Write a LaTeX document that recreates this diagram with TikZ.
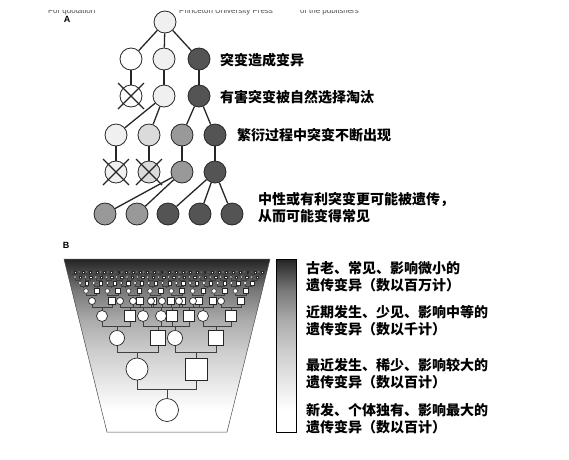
\documentclass[tikz,border=0pt]{standalone}
\usepackage{fontspec}
\newfontfamily\cjk{Noto Sans CJK SC}
\newfontfamily\latin{Liberation Sans}

\tikzset{
  ind/.style={circle, draw=black!85, line width=0.8pt, minimum size=22pt, inner sep=0pt},
  wht/.style={ind, fill=white},
  pale/.style={ind, fill=black!6},
  lgry/.style={ind, fill=black!14},
  mgry/.style={ind, fill=black!40},
  dgry/.style={ind, fill=black!67},
  link/.style={line width=1.3pt, black!85},
  xline/.style={line width=1.2pt, black!85},
  lbl/.style={anchor=west, inner sep=0pt, font=\cjk\bfseries\fontsize{14}{17}\selectfont},
  fem/.style={circle, draw=black!85, fill=white, line width=0.7pt, inner sep=0pt, minimum size=#1pt},
  mal/.style={rectangle, draw=black!85, fill=white, line width=0.7pt, inner sep=0pt, minimum size=#1pt},
  kin/.style={line width=0.6pt, black!75},
  wmk/.style={anchor=base west, inner sep=0pt, black!70, font=\latin\fontsize{8}{8}\selectfont},
}

% mother, father, child, height of the bar
\newcommand{\kinlink}[4]{%
  \draw[kin] (#1.south) -- (#1.south |- 0,#4) -- (#2.south |- 0,#4) -- (#2.south);
  \draw[kin] (#3.north |- 0,#4) -- (#3.north);}

% fading bands from dark (old) to white (new), x range #1 to #2
\newcommand{\agebands}[2]{%
  \foreach \ya/\yb/\ca/\cb in {258/290/87/53, 290/320/53/33, 320/350/33/20,
                               350/380/20/10, 380/410/10/0}
    \shade[top color=black!\ca, bottom color=black!\cb] (#1,\ya) rectangle (#2,\yb+0.3);}

\begin{document}
\begin{tikzpicture}[x=1pt,y=-1pt]
  \useasboundingbox (0,0) rectangle (569,459);

  \begin{scope}
    \clip (0,10.5) rectangle (569,20);
    \node[wmk] (w1) at (48,13.5) {For quotation};
    \node[wmk] (w2) at (179,13.5) {Princeton University Press};
    \node[wmk] (w3) at (300,13.5) {of the publishers};
  \end{scope}

  % A
  \node[font=\latin\bfseries\fontsize{9}{9}\selectfont] (labA) at (67,19) {A};

  \node[pale] (top) at (165,22) {};
  \node[wht]  (a1) at (131,59) {};
  \node[pale] (a2) at (164,59) {};
  \node[dgry] (a3) at (199,59) {};
  \node[wht]  (b1) at (131,96) {};
  \node[pale] (b2) at (164,96) {};
  \node[dgry] (b3) at (199,96) {};
  \node[pale] (c1) at (116,135) {};
  \node[lgry] (c2) at (149,135) {};
  \node[mgry] (c3) at (182,135) {};
  \node[dgry] (c4) at (215,135) {};
  \node[pale] (d1) at (116,172) {};
  \node[lgry] (d2) at (149,172) {};
  \node[mgry] (d3) at (182,172) {};
  \node[dgry] (d4) at (215,172) {};
  \node[mgry] (e1) at (105,214) {};
  \node[mgry] (e2) at (137,214) {};
  \node[dgry] (e3) at (168,214) {};
  \node[dgry] (e4) at (200,214) {};
  \node[dgry] (e5) at (232,214) {};

  \foreach \p/\q in {top/a1, top/a2, top/a3, b2/c1, b2/c2, b3/c3, b3/c4,
                     d3/e1, d3/e2, d4/e3, d4/e4, d4/e5}
    \draw[link] (\p) -- (\q);
  % straight down
  \foreach \p/\q in {a1/b1, a2/b2, a3/b3, c1/d1, c2/d2, c3/d3, c4/d4}
    \draw[link] (\p.south) -- (\q.north);

  \foreach \n in {b1,d1,d2}
    \draw[xline] ([shift={(-13,-13)}]\n.center) -- ([shift={(13,13)}]\n.center)
                 ([shift={(-13,13)}]\n.center) -- ([shift={(13,-13)}]\n.center);

  \node[lbl] (t1) at (220,60) {突变造成变异};
  \node[lbl] (t2) at (220,97) {有害突变被自然选择淘汰};
  \node[lbl] (t3) at (237,135) {繁衍过程中突变不断出现};
  \node[lbl, align=left] (t4) at (258,208) {中性或有利突变更可能被遗传，\\从而可能变得常见};

  % B
  \node[font=\latin\bfseries\fontsize{9}{9}\selectfont] (labB) at (66,245) {B};

  \begin{scope}
    \clip (64,259) -- (270,259) -- (227,432) -- (107,432) -- cycle;
    \agebands{60}{275}
  \end{scope}
  \draw[black!70, line width=0.5pt] (64,259) -- (270,259) -- (227,432) -- (107,432) -- cycle;
  \begin{scope}
    \clip (276,259) rectangle (296,432);
    \agebands{274}{298}
  \end{scope}
  \draw[black, line width=0.6pt] (276,259) rectangle (296,432);

  \node[fem=23] (p0) at (167,410) {};
  \node[fem=22] (p1a) at (137,369) {};
  \node[mal=22] (p1b) at (196,369) {};
  \node[fem=15] (p2a) at (117,338) {};
  \node[mal=15] (p2b) at (158,338) {};
  \node[fem=15] (p2c) at (175,338) {};
  \node[mal=15] (p2d) at (216,338) {};
  \node[fem=11] (p3a) at (102,316) {};
  \node[mal=11] (p3b) at (130,316) {};
  \node[fem=11] (p3c) at (143,316) {};
  \node[fem=11] (p3e) at (161,316) {};
  \node[mal=11] (p3d) at (172,316) {};
  \node[mal=11] (p3f) at (189,316) {};
  \node[fem=11] (p3g) at (203,316) {};
  \node[mal=11] (p3h) at (231,316) {};

  \kinlink{p1a}{p1b}{p0}{389}
  \kinlink{p2a}{p2b}{p1a}{352}
  \kinlink{p2c}{p2d}{p1b}{352}
  \kinlink{p3a}{p3b}{p2a}{326}
  \kinlink{p3c}{p3d}{p2b}{326}
  \kinlink{p3e}{p3f}{p2c}{326}
  \kinlink{p3g}{p3h}{p2d}{326}

  \foreach \n/\x in {p3a/102, p3b/130, p3c/143, p3d/172, p3e/161, p3f/189, p3g/203, p3h/231}{
    \node[fem=7] (\n-m) at (\x-10,301) {};
    \node[mal=7] (\n-f) at (\x+10,301) {};
    \kinlink{\n-m}{\n-f}{\n}{307.5}
  }

  % older generations, packed in rows
  \foreach \lev/\y/\n/\xa/\xb/\s/\w in {5/291/16/86/246/4.6/0.5, 6/283/26/80/252/3.4/0.4,
                                        7/277/36/75/257/2.6/0.35, 8/272/54/72/262/1.9/0.3}{
    \pgfmathsetmacro{\dx}{(\xb-\xa)/(\n-1)}
    \pgfmathtruncatemacro{\last}{\n-1}
    \pgfmathtruncatemacro{\lastpair}{\n-2}
    \pgfmathsetmacro{\yb}{\y+\s/2+1.5}
    \foreach \i in {0,...,\last}{
      \pgfmathtruncatemacro{\odd}{mod(\i,2)}
      \ifnum\odd=0
        \node[fem=\s, line width=\w pt] (r\lev-\i) at (\xa+\i*\dx,\y) {};
      \else
        \node[mal=\s, line width=\w pt] (r\lev-\i) at (\xa+\i*\dx,\y) {};
      \fi
    }
    \foreach \i in {0,2,...,\lastpair}{
      \pgfmathtruncatemacro{\j}{\i+1}
      \draw[kin, line width=\w pt] (r\lev-\i.south) -- (r\lev-\i.south |- 0,\yb)
        -- (r\lev-\j.south |- 0,\yb) -- (r\lev-\j.south);
      \coordinate (k\lev-\i) at (\xa+\i*\dx+0.5*\dx,\yb);
      \draw[kin, line width=\w pt] (k\lev-\i) -- ++(0,1.5);
    }
  }

  \node[lbl, align=left] (g1) at (306,276.5) {古老、常见、影响微小的\\遗传变异（数以百万计）};
  \node[lbl, align=left] (g2) at (306,320.5) {近期发生、少见、影响中等的\\遗传变异（数以千计）};
  \node[lbl, align=left] (g3) at (306,373.5) {最近发生、稀少、影响较大的\\遗传变异（数以百计）};
  \node[lbl, align=left] (g4) at (306,418.5) {新发、个体独有、影响最大的\\遗传变异（数以百计）};
\end{tikzpicture}
\end{document}
